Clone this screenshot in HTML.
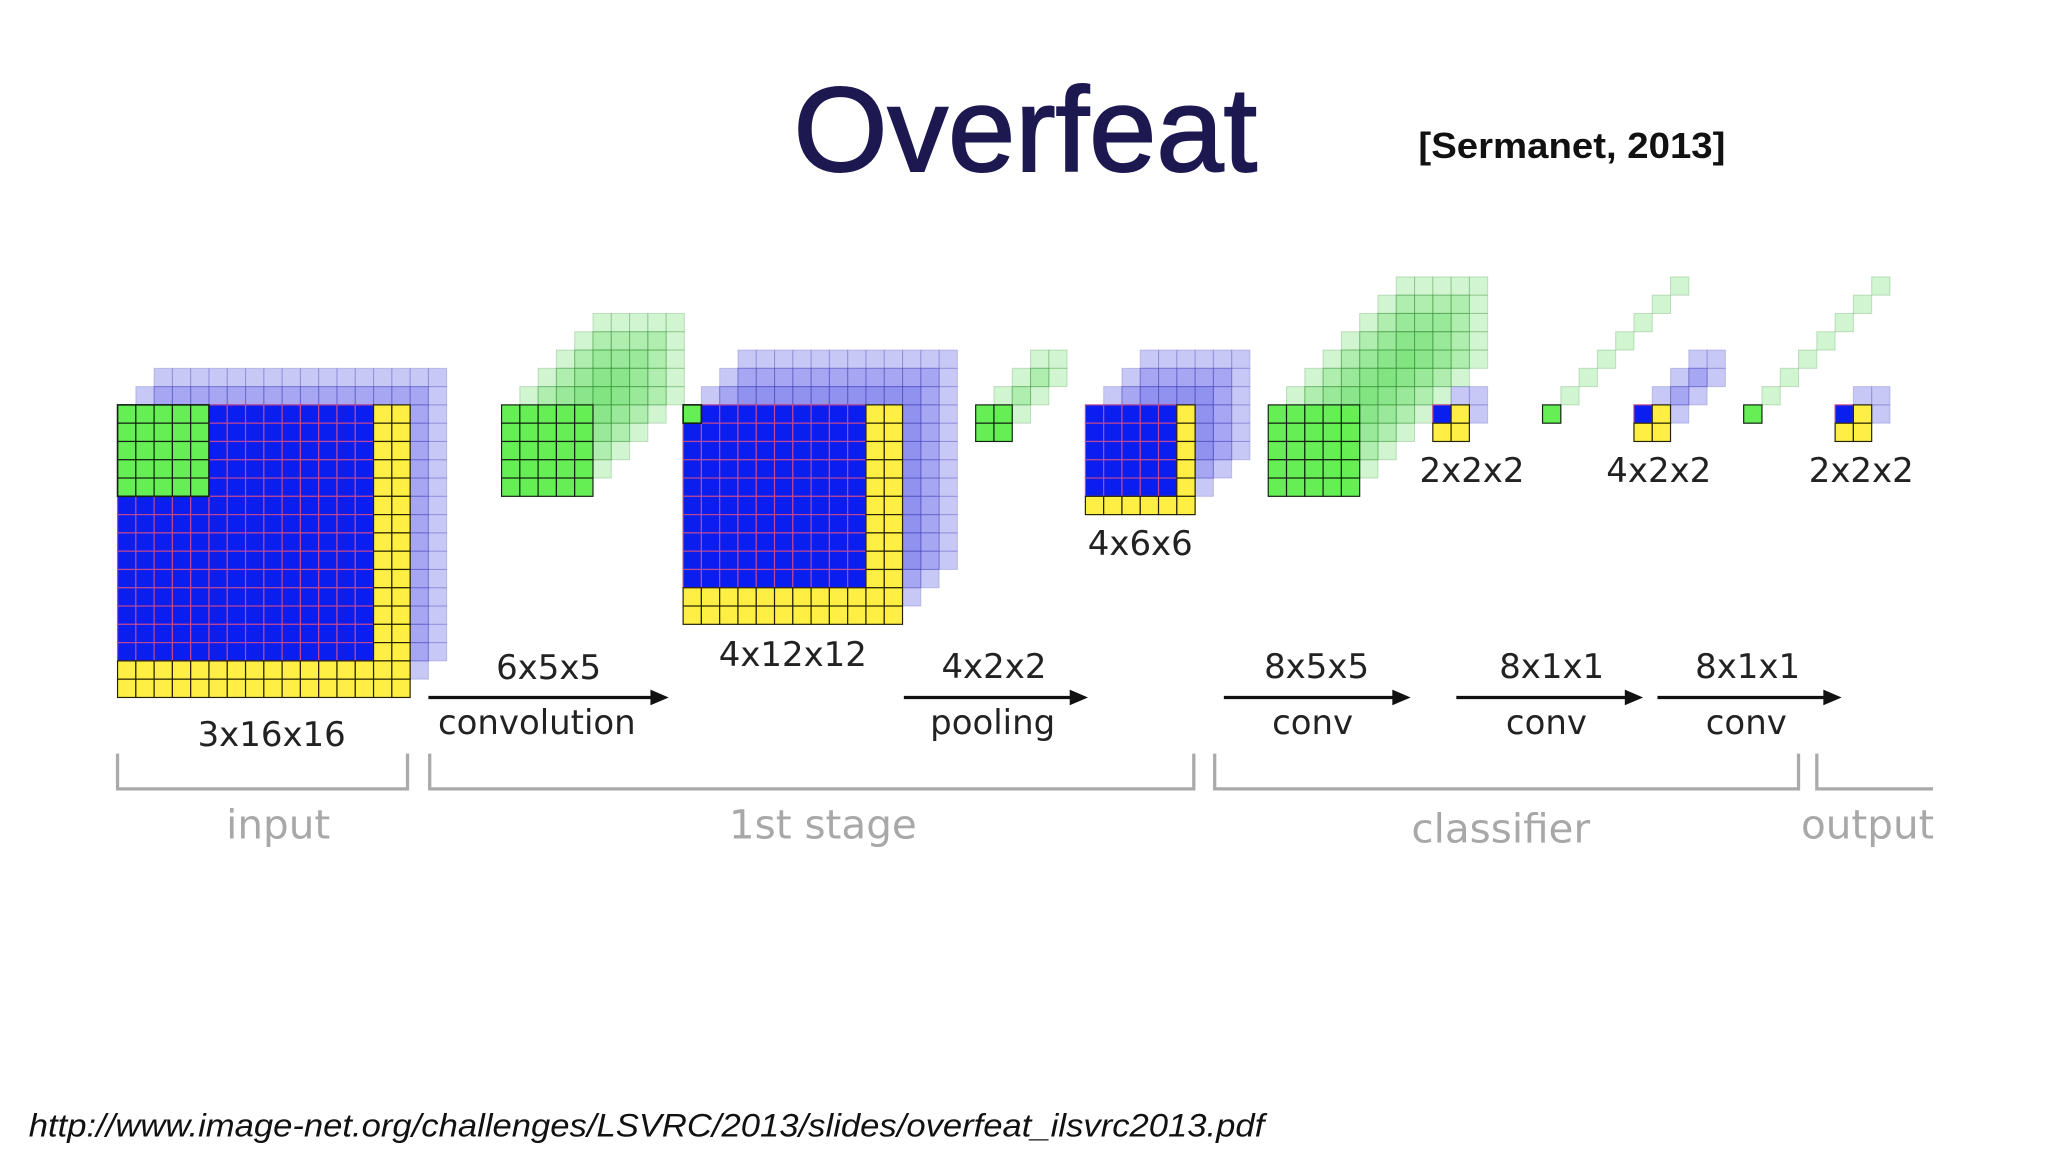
<!DOCTYPE html>
<html><head><meta charset="utf-8"><style>
html,body{margin:0;padding:0;background:#fff;}
svg{display:block;}
</style></head><body>
<svg id="fig" xmlns="http://www.w3.org/2000/svg" width="2048" height="1152" viewBox="0 0 1568 882">
<rect width="1568" height="882" fill="#ffffff"/>
<text x="785" y="131" text-anchor="middle" font-family="Liberation Sans, sans-serif" font-size="92" fill="#1d1850" stroke="#1d1850" stroke-width="1.5" textLength="355" lengthAdjust="spacingAndGlyphs">Overfeat</text>
<text x="1086" y="121" font-family="Liberation Sans, sans-serif" font-weight="bold" font-size="28" fill="#111" textLength="235" lengthAdjust="spacingAndGlyphs">[Sermanet, 2013]</text>
<g id="blocks"></g>
<g id="labels" font-family="DejaVu Sans, sans-serif" fill="#222"></g>
<text x="22" y="870" font-family="Liberation Sans, sans-serif" font-style="italic" font-size="25" fill="#111" textLength="946" lengthAdjust="spacingAndGlyphs">http://www.image-net.org/challenges/LSVRC/2013/slides/overfeat_ilsvrc2013.pdf</text>
</svg>
<script>
const NS='http://www.w3.org/2000/svg';
const C=14;
// blocks
const blockNames=['input-volume','conv1-kernel','stage1-output','pool-kernel','pool-output','conv2-kernel','conv2-output','conv3-kernel','conv3-output','conv4-kernel','final-output'];
const blockX=[90,384,523,747,831,971,1097,1181,1251,1335,1405];
const blockY=[310,310,310,310,310,310,310,310,310,310,310];
const blockN=[16,5,12,2,6,5,2,1,2,1,2];
const blockD=[3,6,4,4,4,8,2,8,4,8,2];
const blockKind=['map','kern','map','kern','map','kern','map','kern','map','kern','map'];
const blockBorder=[2,0,2,0,1,0,1,0,1,0,1];
const blockGreen=[5,0,1,0,0,0,0,0,0,0,0];

const gB=document.getElementById('blocks');
function rect(g,x,y,w,h,fill,stroke,sw){
  const r=document.createElementNS(NS,'rect');
  r.setAttribute('x',x);r.setAttribute('y',y);r.setAttribute('width',w);r.setAttribute('height',h);
  r.setAttribute('fill',fill);r.setAttribute('stroke',stroke);r.setAttribute('stroke-width',sw);
  g.appendChild(r);return r;
}
for(let i=0;i<blockNames.length;i++){
  const g=document.createElementNS(NS,'g');
  
  
  gB.appendChild(g);
  const n=blockN[i],x0=blockX[i],y0=blockY[i],kind=blockKind[i];
  for(let k=blockD[i]-1;k>=1;k--){
    const ox=x0+C*k,oy=y0-C*k;
    for(let r=0;r<n;r++)for(let c=0;c<n;c++){
      if(kind==='map') rect(g,ox+c*C,oy+r*C,C,C,'rgba(110,110,235,0.38)','rgba(70,70,180,0.25)',0.8);
      else rect(g,ox+c*C,oy+r*C,C,C,'rgba(110,225,110,0.32)','rgba(60,140,60,0.25)',0.8);
    }
  }
  const b=blockBorder[i],gc=blockGreen[i];
  for(let r=0;r<n;r++)for(let c=0;c<n;c++){
    let fill,stroke;
    if(kind==='kern'){fill='#66ee55';stroke='#112211';}
    else if(r<gc&&c<gc){fill='#66ee55';stroke='#112211';}
    else if(r>=n-b||c>=n-b){fill='#ffee44';stroke='#222200';}
    else {fill='#0a1ef0';stroke='#c04890';}
    rect(g,x0+c*C,y0+r*C,C,C,fill,stroke,0.9);
  }
  if(kind==='map'&&gc>0) rect(g,x0,y0,gc*C,gc*C,'none','#112211',1.2);
}
// labels
const lblText=['3x16x16','6x5x5','convolution','4x12x12','4x2x2','pooling','4x6x6','8x5x5','conv','8x1x1','conv','8x1x1','conv','2x2x2','4x2x2','2x2x2'];
const lblX=[208,420,411,607,761,760,873,1008,1005,1188,1184,1338,1337,1127,1270,1425];
const lblY=[571,520,562,510,519,562,425,519,562,519,562,519,562,369,369,369];
const gL=document.getElementById('labels');
for(let i=0;i<lblText.length;i++){
  const t=document.createElementNS(NS,'text');
  
  
  t.setAttribute('x',lblX[i]);t.setAttribute('y',lblY[i]);
  t.setAttribute('text-anchor','middle');t.setAttribute('font-size','26');
  t.textContent=lblText[i];gL.appendChild(t);
}
// arrows
const arX1=[328,692,937,1115,1269];
const arX2=[512,833,1080,1258,1410];
for(let i=0;i<arX1.length;i++){
  const l=document.createElementNS(NS,'line');
  
  
  l.setAttribute('x1',arX1[i]);l.setAttribute('x2',arX2[i]-10);l.setAttribute('y1',534);l.setAttribute('y2',534);
  l.setAttribute('stroke','#111');l.setAttribute('stroke-width','2.5');gL.appendChild(l);
  const p=document.createElementNS(NS,'path');
  
  
  p.setAttribute('d','M'+arX2[i]+' 534 L'+(arX2[i]-14)+' 528 L'+(arX2[i]-14)+' 540 Z');
  p.setAttribute('fill','#111');gL.appendChild(p);
}
// brackets
const brText=['input','1st stage','classifier','output'];
const brX1=[90,329,930,1391];
const brX2=[312,914,1377,1500];
const brLX=[213,630,1149,1430];
const brLY=[642,642,645,642];
for(let i=0;i<brText.length;i++){
  const p=document.createElementNS(NS,'path');
  
  
  p.setAttribute('d','M'+brX1[i]+' 577 L'+brX1[i]+' 604 L'+brX2[i]+' 604 L'+brX2[i]+' 577');
  p.setAttribute('fill','none');p.setAttribute('stroke','#aaaaaa');p.setAttribute('stroke-width','2.5');
  gL.appendChild(p);
  const t=document.createElementNS(NS,'text');
  
  
  t.setAttribute('x',brLX[i]);t.setAttribute('y',brLY[i]);
  t.setAttribute('text-anchor','middle');t.setAttribute('font-size','31');t.setAttribute('fill','#a8a8a8');
  t.textContent=brText[i];gL.appendChild(t);
}
rect(gL,1480,560,100,120,'#ffffff','none',0);
</script>
</body></html>
